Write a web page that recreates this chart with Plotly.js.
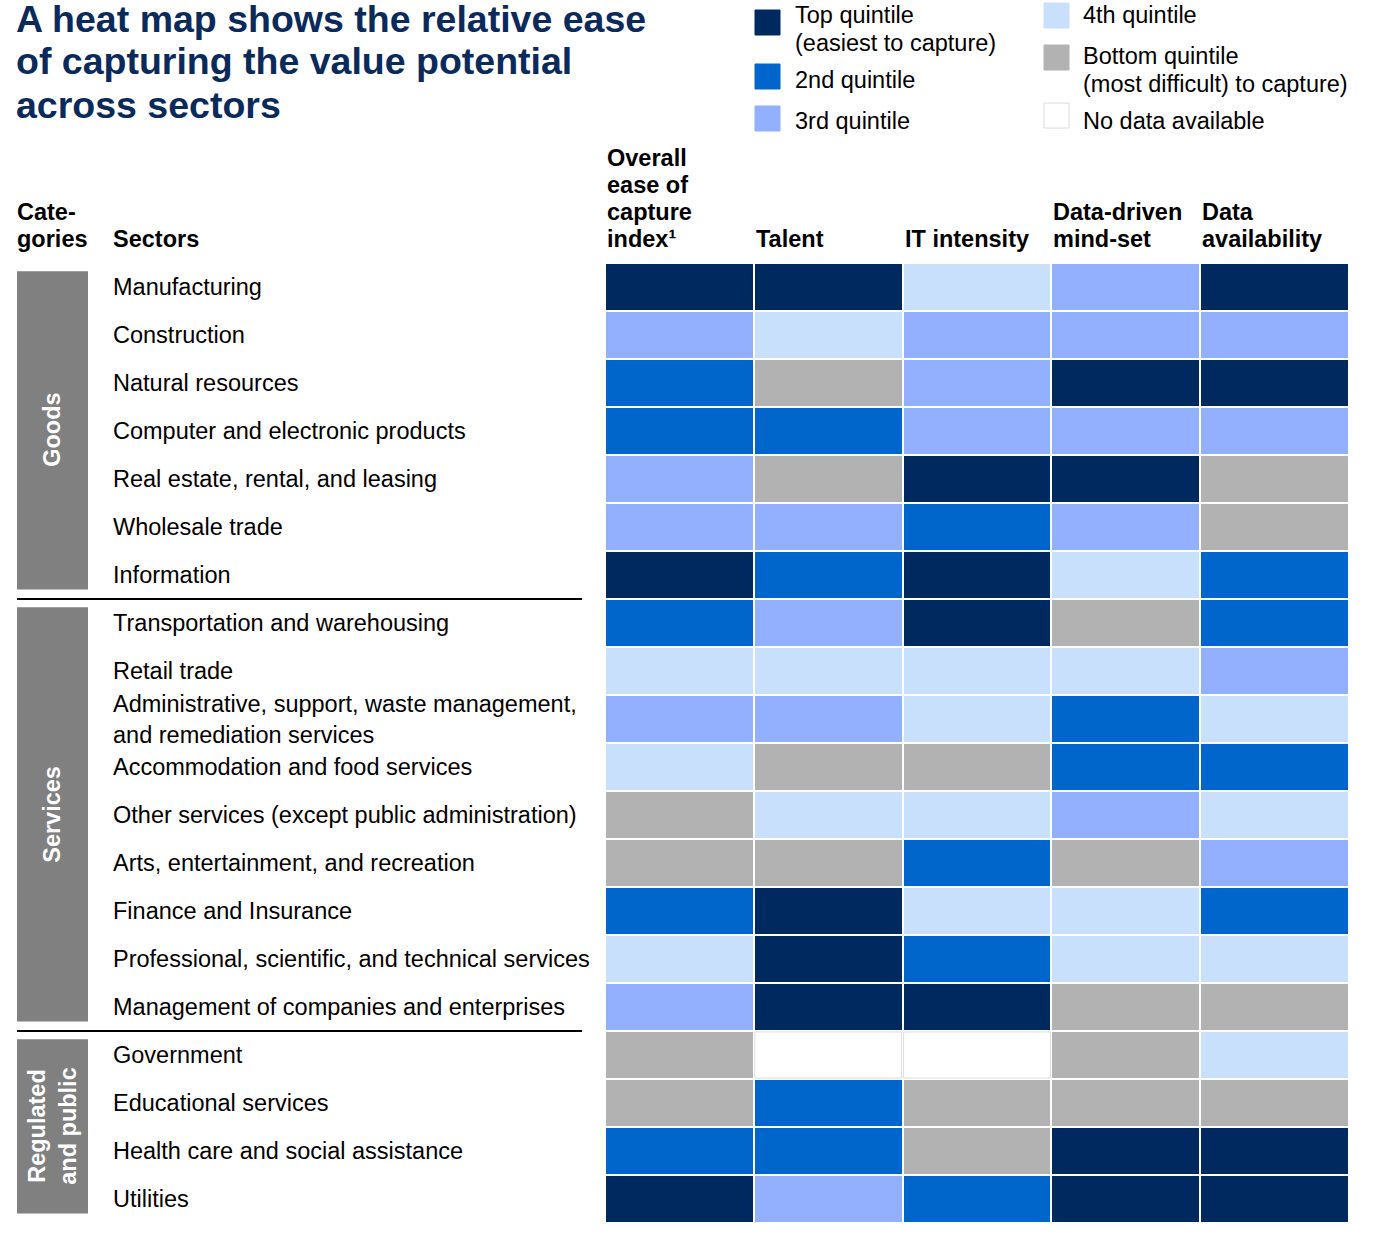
<!DOCTYPE html>
<html>
<head>
<meta charset="utf-8">
<script src="https://cdn.plot.ly/plotly-3.0.1.min.js"></script>
<style>html,body{margin:0;padding:0;background:#fff;}#chart{width:1382px;height:1243px;}</style>
</head>
<body>
<div id="chart"></div>
<script>
// ---- Data ----
const titleLines = [
  "A heat map shows the relative ease",
  "of capturing the value potential",
  "across sectors"
];
const sectors = [
  "Manufacturing",
  "Construction",
  "Natural resources",
  "Computer and electronic products",
  "Real estate, rental, and leasing",
  "Wholesale trade",
  "Information",
  "Transportation and warehousing",
  "Retail trade",
  "Administrative, support, waste management,<br>and remediation services",
  "Accommodation and food services",
  "Other services (except public administration)",
  "Arts, entertainment, and recreation",
  "Finance and Insurance",
  "Professional, scientific, and technical services",
  "Management of companies and enterprises",
  "Government",
  "Educational services",
  "Health care and social assistance",
  "Utilities"
];
const columnHeaders = [
  ["Overall", "ease of", "capture", "index\u00B9"],
  ["Talent"],
  ["IT intensity"],
  ["Data-driven", "mind-set"],
  ["Data", "availability"]
];
// quintile codes: 1 = top, 2 = 2nd, 3 = 3rd, 4 = 4th, 5 = bottom, 0 = no data
const overallEase   = [1,3,2,2,3,3,1,2,4,3,4,5,5,2,4,3,5,5,2,1];
const talent        = [1,4,5,2,5,3,2,3,4,3,5,4,5,1,1,1,0,2,2,3];
const itIntensity   = [4,3,3,3,1,2,1,1,4,4,5,4,2,4,2,1,0,5,5,2];
const dataMindset   = [3,3,1,3,1,3,4,5,4,2,2,3,5,4,4,5,5,5,1,1];
const dataAvailable = [1,3,1,3,5,5,2,2,3,4,2,4,3,2,4,5,4,5,1,1];
const groups = [
  {label: "Goods", first: 0, last: 6},
  {label: "Services", first: 7, last: 15},
  {label: "Regulated<br>and public", first: 16, last: 19}
];
const legendItems = [
  {code: 1, text: ["Top quintile", "(easiest to capture)"]},
  {code: 2, text: ["2nd quintile"]},
  {code: 3, text: ["3rd quintile"]},
  {code: 4, text: ["4th quintile"]},
  {code: 5, text: ["Bottom quintile", "(most difficult) to capture)"]},
  {code: 0, text: ["No data available"]}
];
const codeColors = {0: "#FFFFFF", 1: "#002960", 2: "#0066CC", 3: "#93AFFF", 4: "#C8E0FB", 5: "#B2B2B2"};

// ---- Build ----
const W = 1382, H = 1243;
const px = v => v / W;
const py = v => 1 - v / H;
const FONT = "Liberation Sans, Arial, Helvetica, sans-serif";
const FS = 23.5;

const cols = [overallEase, talent, itIntensity, dataMindset, dataAvailable];
const z = sectors.map((_, i) => cols.map(c => c[i]));

const colorscale = [];
for (let k = 0; k <= 5; k++) {
  colorscale.push([k / 6, codeColors[k]]);
  colorscale.push([(k + 1) / 6, codeColors[k]]);
}

const trace = {
  type: "heatmap",
  z: z,
  x: [0, 1, 2, 3, 4],
  y: sectors.map((_, i) => i),
  zmin: -0.5, zmax: 5.5,
  colorscale: colorscale,
  showscale: false,
  xgap: 2, ygap: 2,
  hoverinfo: "skip"
};

const annotations = [];
const shapes = [];

// title lines
const titleCenters = [19, 61, 105];
titleLines.forEach((t, k) => {
  annotations.push({
    xref: "paper", yref: "paper", x: px(14), y: py(titleCenters[k]),
    xanchor: "left", yanchor: "middle", align: "left",
    text: "<b>" + t + "</b>", showarrow: false,
    font: {family: FONT, size: 37.5, color: "#0B2A5C"}
  });
});

// sector labels
sectors.forEach((s, i) => {
  annotations.push({
    xref: "paper", yref: "y", x: px(111), y: i,
    xanchor: "left", yanchor: "middle", align: "left",
    text: s, showarrow: false,
    font: {family: FONT, size: FS, color: "#000"}
  });
});

// column headers (one annotation per line)
const headerBaseline = 254;
const headerLine = 27;
columnHeaders.forEach((lines, j) => {
  lines.forEach((ln, k) => {
    const fromBottom = lines.length - 1 - k;
    annotations.push({
      xref: "x", yref: "paper", x: j - 0.5, y: py(headerBaseline - fromBottom * headerLine),
      xanchor: "left", yanchor: "bottom", align: "left",
      text: "<b>" + ln + "</b>", showarrow: false,
      font: {family: FONT, size: FS, color: "#000"}
    });
  });
});

// left header labels
[["Cate-", 227], ["gories", 254]].forEach(([t, b]) => {
  annotations.push({xref: "paper", yref: "paper", x: px(15), y: py(b), xanchor: "left", yanchor: "bottom",
    text: "<b>" + t + "</b>", showarrow: false, font: {family: FONT, size: FS, color: "#000"}});
});
annotations.push({xref: "paper", yref: "paper", x: px(111), y: py(254), xanchor: "left", yanchor: "bottom",
  text: "<b>Sectors</b>", showarrow: false, font: {family: FONT, size: FS, color: "#000"}});

// horizontal rules
const rules = [-0.5 - 0.1].concat(groups.slice(0, -1).map(g => g.last + 0.5));
rules.forEach(yv => {
  shapes.push({type: "line", xref: "paper", yref: "y", x0: px(17), x1: px(582), y0: yv, y1: yv,
    line: {color: "#000", width: 2}});
});

// group bars
groups.forEach(g => {
  const y0 = g.first - 0.5 + 0.17, y1 = g.last + 0.5 - 0.2;
  shapes.push({type: "rect", xref: "paper", yref: "y", x0: px(17), x1: px(88), y0: y0, y1: y1,
    fillcolor: "#808080", line: {width: 0}, layer: "below"});
  annotations.push({xref: "paper", yref: "y", x: px(52.5), y: (y0 + y1) / 2,
    xanchor: "center", yanchor: "middle", textangle: -90,
    text: "<b>" + g.label + "</b>", showarrow: false,
    font: {family: FONT, size: FS, color: "#fff"}});
});

// outlines for no-data cells
z.forEach((row, i) => row.forEach((v, j) => {
  if (v === 0) {
    shapes.push({type: "rect", xref: "x", yref: "y", x0: j - 0.5 + 0.007, x1: j + 0.5 - 0.007,
      y0: i - 0.5 + 0.02, y1: i + 0.5 - 0.02, line: {color: "#dcdcdc", width: 1}, fillcolor: "rgba(0,0,0,0)"});
  }
}));

// legend
const legendPos = [
  {sx: 755, sy: 10, tx: 793, ty: 15},
  {sx: 755, sy: 64, tx: 793, ty: 80},
  {sx: 755, sy: 106, tx: 793, ty: 121},
  {sx: 1044, sy: 3, tx: 1081, ty: 15},
  {sx: 1044, sy: 45, tx: 1081, ty: 56},
  {sx: 1044, sy: 103, tx: 1081, ty: 121}
];
legendItems.forEach((it, k) => {
  const p = legendPos[k];
  shapes.push({type: "rect", xref: "paper", yref: "paper",
    x0: px(p.sx), x1: px(p.sx + 25), y0: py(p.sy + 25), y1: py(p.sy),
    fillcolor: codeColors[it.code], line: {color: it.code === 0 ? "#dcdcdc" : codeColors[it.code], width: 1}});
  it.text.forEach((t, m) => {
    annotations.push({xref: "paper", yref: "paper", x: px(p.tx), y: py(p.ty + m * 28),
      xanchor: "left", yanchor: "middle", text: t, showarrow: false,
      font: {family: FONT, size: FS, color: "#000"}});
  });
});

const layout = {
  width: W, height: H,
  margin: {l: 0, r: 0, t: 0, b: 0},
  paper_bgcolor: "#fff", plot_bgcolor: "#fff",
  xaxis: {domain: [px(605), px(1349)], range: [-0.5, 4.5], showgrid: false, zeroline: false,
    showticklabels: false, ticks: "", fixedrange: true},
  yaxis: {domain: [py(1223), py(263)], range: [19.5, -0.5], showgrid: false, zeroline: false,
    showticklabels: false, ticks: "", fixedrange: true},
  annotations: annotations,
  shapes: shapes,
  showlegend: false
};

Plotly.newPlot("chart", [trace], layout, {displayModeBar: false, staticPlot: true});
</script>
</body>
</html>
